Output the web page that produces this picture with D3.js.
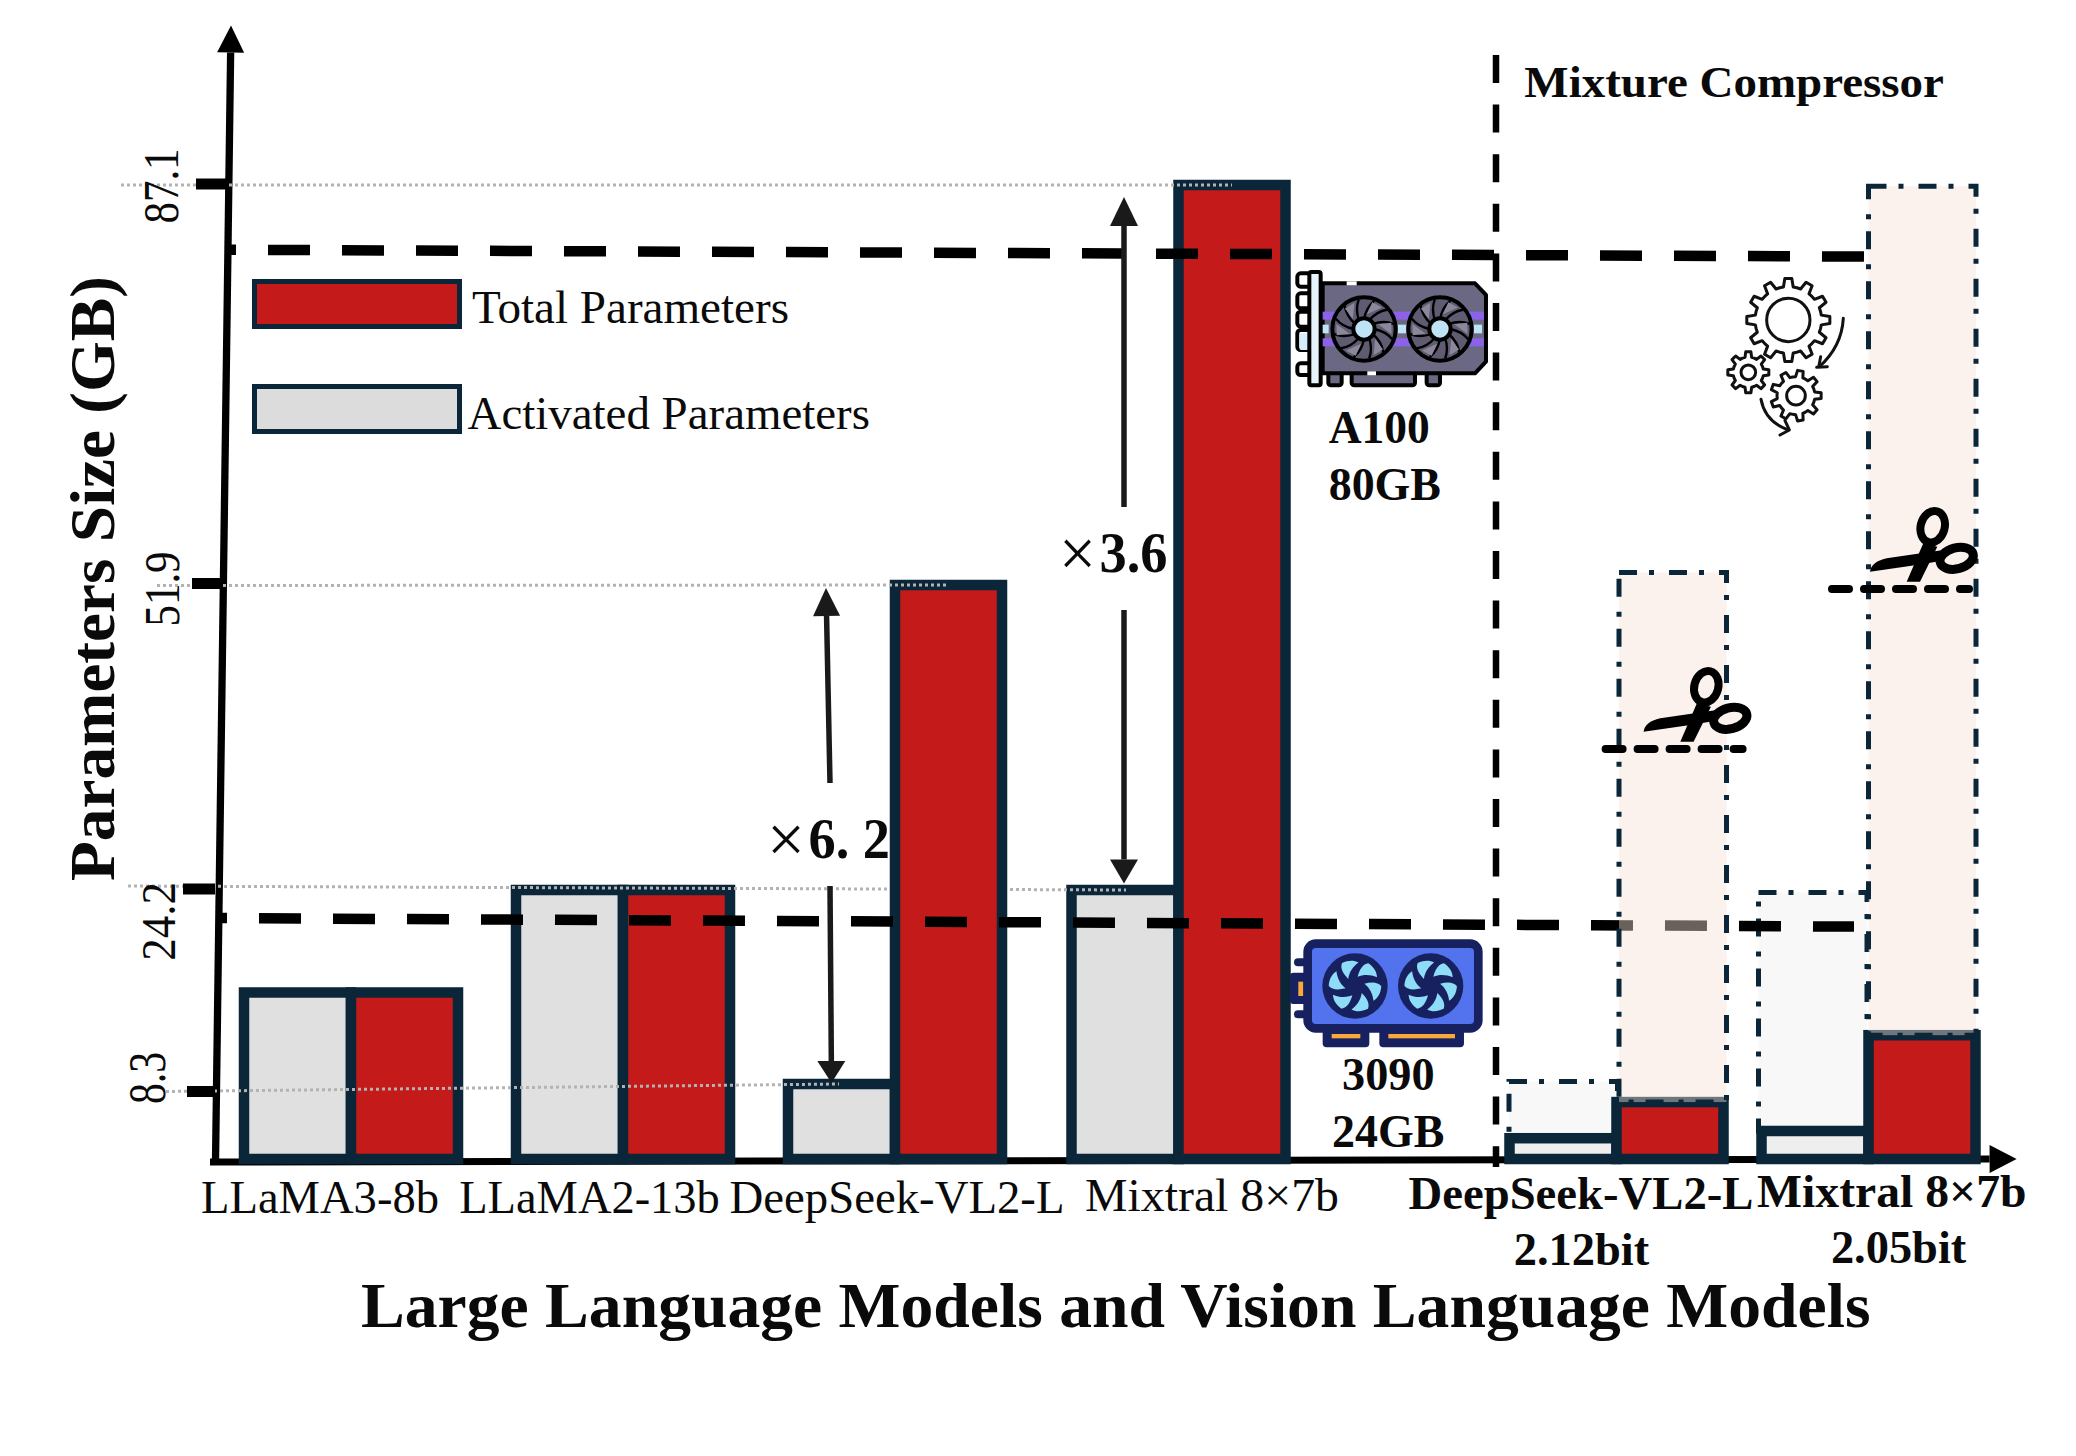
<!DOCTYPE html>
<html><head><meta charset="utf-8">
<script src="https://cdn.jsdelivr.net/npm/d3@7/dist/d3.min.js"></script>
<style>html,body{margin:0;padding:0;background:#fff}svg{display:block}text{font-family:"Liberation Serif","Times New Roman",serif;fill:#0a0a0a}</style>
</head><body><svg id="c" width="2076" height="1456"></svg>
<script>
// ---------- data ----------
const categories = ["LLaMA3-8b","LLaMA2-13b","DeepSeek-VL2-L","Mixtral 8×7b","DeepSeek-VL2-L 2.12bit","Mixtral 8×7b 2.05bit"];
const activated = [15.8,24.2,8.3,24.2,2.3,3.1];
const total = [15.8,24.2,51.9,87.1,6.3,12.3];
const fadedCategories = ["DeepSeek-VL2-L 2.12bit","Mixtral 8×7b 2.05bit"];
const fadedActivated = [8.5,24.0];
const fadedTotal = [53.0,87.0];
const yTicks = [8.3,24.2,51.9,87.1];
const capacityLabels = [["A100","80GB"],["3090","24GB"]];
const capacityStart = [81.4,21.9];
const capacityEnd = [80.8,21.2];
const ratioSign = "×";
const ratios = ["6. 2","3.6"];

// ---------- style / layout ----------
const NAVY="#0a2638",RED="#c41a1a",GREY="#e0e0e0",GREY2="#eeeeee",BLACK="#000";
const svg=d3.select("#c");
svg.append("rect").attr("width",2076).attr("height",1456).attr("fill","#fff");
const y=d3.scaleLinear().domain([0,8.3,24.2,51.9,87.1]).range([1159,1084,890,585,185]);
const yAxisScale=d3.scaleLinear().domain(yTicks).range([1091.5,889,583.5,184]);
const x=d3.scaleOrdinal().domain(categories).range([351,623,895,1178.5,1616.5,1868.5]);
const xLabel=d3.scaleOrdinal().domain(categories).range([320,589.5,897,1212,1581,1891.8]);
const BAR=107;

function txt(g,s,x0,x1,base,size,bold){
  return g.append("text").attr("x",x0).attr("y",base).attr("font-size",size)
    .attr("font-weight",bold?"bold":"normal").attr("textLength",x1-x0)
    .attr("lengthAdjust","spacingAndGlyphs").text(s);
}
function arrow(g,x0,y0,x1,y1,color,sw,hl,hw){
  const d=Math.hypot(x1-x0,y1-y0),ux=(x1-x0)/d,uy=(y1-y0)/d;
  const bx=x1-ux*hl,by=y1-uy*hl;
  g.append("line").attr("x1",x0).attr("y1",y0).attr("x2",bx).attr("y2",by).attr("stroke",color).attr("stroke-width",sw);
  g.append("polygon").attr("fill",color).attr("points",
    [[x1,y1],[bx-uy*hw/2,by+ux*hw/2],[bx+uy*hw/2,by-ux*hw/2]].map(p=>p.join(",")).join(" "));
}

// axis lines
arrow(svg,210,1162,2016.6,1159,BLACK,7,27,28);
arrow(svg,215.5,1162,231,25.5,BLACK,7.3,27,27);

// bars
const barData=[];
categories.forEach((c,i)=>{
  barData.push({c,i,kind:"a",v:activated[i]});
  barData.push({c,i,kind:"t",v:total[i]});
});
function drawBars(data){
  const g=svg.append("g");
  g.selectAll("rect").data(data).join("rect")
    .attr("x",d=>d.kind==="a"?x(d.c)-BAR:x(d.c))
    .attr("width",BAR)
    .attr("y",d=>y(d.v))
    .attr("height",d=>y(0)-y(d.v))
    .attr("fill",d=>d.kind==="t"?RED:(d.i>=4?GREY2:GREY))
    .attr("stroke",NAVY).attr("stroke-width",10.5);
}
const gridLeft=[166,128,157,121], gridRight=[839,1126,948,1232];
function drawGrid(vals){
  vals.forEach(v=>{
    const i=yTicks.indexOf(v);
    svg.append("line").attr("x1",gridLeft[i]).attr("x2",gridRight[i])
      .attr("y1",yAxisScale(v)+(v===87.1?1:v===51.9?2:v===24.2?-3:0)).attr("y2",y(v))
      .attr("stroke","#b3b3b3").attr("stroke-width",3).attr("stroke-dasharray","3 3");
  });
}
const tall=d=>d.i<4 && d.v>30;
const fadeDash="18 12 5 15", fadeOffset=[2.5,0];
fadedCategories.forEach((c,i)=>{
  const solid=activated[categories.indexOf(c)];
  svg.append("rect").attr("x",x(c)-110+fadeOffset[i]).attr("width",108.5)
    .attr("y",y(fadedActivated[i])).attr("height",y(solid)-y(fadedActivated[i]))
    .attr("fill","#f8f8f8").attr("stroke",NAVY).attr("stroke-width",5).attr("stroke-dasharray",fadeDash);
});
drawBars(barData.filter(d=>!tall(d)));
drawGrid([8.3,24.2]);
drawBars(barData.filter(tall));
drawGrid([51.9,87.1]);

// y axis ticks and labels, above the dotted lines
const tickX=[[187,215],[183,215],[192,222],[196,229]];
const tickLabelX=[164.5,175,179,178], tickLabelY=[1078,921.5,589,186];
const tickFont=[41.6,45,43,43], tickStretch=[1.25,1.08,1.2,1.2];
const yAxisG=svg.append("g").call(d3.axisLeft(yAxisScale).tickValues(yTicks).tickSize(0).tickFormat(d3.format(".1f")));
yAxisG.select(".domain").remove();
yAxisG.selectAll(".tick").each(function(v,i){
  const t=d3.select(this),yy=yAxisScale(v);
  t.attr("transform",`translate(0,${yy})`);
  t.select("line").attr("x1",tickX[i][0]).attr("x2",tickX[i][1]).attr("stroke",BLACK).attr("stroke-width",11);
  t.select("text").attr("x",0).attr("y",0).attr("dy",0).attr("text-anchor","middle").attr("fill","#0a0a0a")
    .attr("font-family","Liberation Serif").attr("font-size",tickFont[i])
    .attr("transform",`translate(${tickLabelX[i]},${tickLabelY[i]-yy}) rotate(-90) scale(1,${tickStretch[i]})`);
});

// capacity lines
const capX=[[231,1864],[217,1854]], capOffset=[37,32];
capacityStart.forEach((v,i)=>{
  svg.append("line").attr("x1",capX[i][0]).attr("x2",capX[i][1]).attr("y1",y(v)).attr("y2",y(capacityEnd[i]))
    .attr("stroke",BLACK).attr("stroke-width",10.5).attr("stroke-dasharray","42 32").attr("stroke-dashoffset",capOffset[i]);
});

// faded total bars over the lines
fadedCategories.forEach((c,i)=>{
  const solid=total[categories.indexOf(c)];
  svg.append("rect").attr("x",x(c)+fadeOffset[i]).attr("width",107.5)
    .attr("y",y(fadedTotal[i])).attr("height",y(solid)-y(fadedTotal[i]))
    .attr("fill","rgb(246,225,215)").attr("fill-opacity",0.43)
    .attr("stroke",NAVY).attr("stroke-width",5).attr("stroke-dasharray",fadeDash);
});

// separator
svg.append("line").attr("x1",1496).attr("x2",1496).attr("y1",55).attr("y2",1167)
  .attr("stroke",BLACK).attr("stroke-width",6.5).attr("stroke-dasharray","28 21.6");

// ratio arrows
arrow(svg,830,783,826,588,"#1a1a1a",5.5,28,27);
arrow(svg,830,886,831.5,1083,"#1a1a1a",5.5,22,28);
arrow(svg,1124,507,1124,197,"#1a1a1a",5.5,29,28);
arrow(svg,1124,610,1124,883.5,"#1a1a1a",5.5,24,28);
txt(svg,ratioSign,767,805,862,68,false);
txt(svg,ratios[0],808.5,890,858,58,true);
txt(svg,ratioSign,1059,1096,576,68,false);
txt(svg,ratios[1],1099.5,1167.5,572,58,true);

// legend
svg.append("rect").attr("x",254.5).attr("y",281.5).attr("width",205).attr("height",45).attr("fill",RED).attr("stroke",NAVY).attr("stroke-width",5);
svg.append("rect").attr("x",254.5).attr("y",386.5).attr("width",205).attr("height",45).attr("fill","#dcdcdc").attr("stroke",NAVY).attr("stroke-width",5);
txt(svg,"Total Parameters",472,789,322.6,46.5);
txt(svg,"Activated Parameters",467.5,870,429.4,46.5);

// category axis
const labelText=["LLaMA3-8b","LLaMA2-13b","DeepSeek-VL2-L","Mixtral 8×7b","DeepSeek-VL2-L","Mixtral 8×7b"];
const labelW=[238,260.5,335,254,345,269.5], labelBase=[1213,1213,1213,1211,1209,1207];
const xAxisG=svg.append("g").call(d3.axisBottom(xLabel).tickSize(0).tickFormat((d,i)=>labelText[i]));
xAxisG.select(".domain").remove();
xAxisG.selectAll(".tick").each(function(c,i){
  const t=d3.select(this);
  t.attr("transform",`translate(${xLabel(c)},0)`);
  t.select("text").attr("y",labelBase[i]).attr("dy",0).attr("font-size",46).attr("fill","#0a0a0a")
    .attr("font-family","Liberation Serif").attr("font-weight",i>=4?"bold":"normal")
    .attr("text-anchor","middle").attr("textLength",labelW[i]).attr("lengthAdjust","spacingAndGlyphs");
});
txt(svg,"2.12bit",1513.7,1649.2,1265,46,true);
txt(svg,"2.05bit",1830.9,1966.3,1263,46,true);

// titles
txt(svg,"Large Language Models and Vision Language Models",361,1870.5,1327,64,true);
svg.append("text").attr("transform","translate(113.5,881) rotate(-90)").attr("font-size",63.7).attr("font-weight","bold")
  .attr("textLength",605).attr("lengthAdjust","spacingAndGlyphs").text("Parameters Size (GB)");
txt(svg,"Mixture Compressor",1524.3,1943.9,96.6,45,true);
txt(svg,capacityLabels[0][0],1328.7,1429.8,443,46,true);
txt(svg,capacityLabels[0][1],1328.7,1441,500,46,true);
txt(svg,capacityLabels[1][0],1342,1434.5,1090,46,true);
txt(svg,capacityLabels[1][1],1332,1444.4,1147,46,true);

// ---------- icons (decoration, drawn in 3x crop coordinates) ----------
function a100(){
  const g=svg.append("g").attr("transform","translate(1280,250) scale(0.3333)");
  const S={stroke:"#000","stroke-width":12,"stroke-linejoin":"round","stroke-linecap":"round"};
  const st=(s,o)=>{Object.entries(Object.assign({},S,o||{})).forEach(([k,v])=>s.attr(k,v));return s;};
  [[145,40],[215,190],[440,40]].forEach(([a,w])=>st(g.append("rect").attr("x",a).attr("y",360).attr("width",w).attr("height",46).attr("rx",8).attr("fill","#6b6884")));
  [[70,40],[130,45],[185,45],[240,60],[340,35]].forEach(([a,h])=>st(g.append("rect").attr("x",52).attr("y",a).attr("width",40).attr("height",h).attr("rx",10).attr("fill","#fff")));
  st(g.append("rect").attr("x",58).attr("y",250).attr("width",30).attr("height",50).attr("rx",6).attr("fill","#d5ecfa"),{stroke:"none"});
  st(g.append("polygon").attr("points","128,100 585,100 618,135 618,335 585,370 128,370").attr("fill","#6b6884"));
  g.append("rect").attr("x",126).attr("y",185).attr("width",486).attr("height",24).attr("fill","#8c63e8");
  g.append("rect").attr("x",126).attr("y",265).attr("width",486).attr("height",24).attr("fill","#8c63e8");
  [134,366,594].forEach(c=>g.append("rect").attr("x",c-12).attr("y",224).attr("width",24).attr("height",26).attr("fill","#bfe3f5"));
  g.append("rect").attr("x",200).attr("y",94).attr("width",30).attr("height",12).attr("fill","#fff");
  g.append("rect").attr("x",262).attr("y",364).attr("width",26).attr("height",12).attr("fill","#fff");
  st(g.append("rect").attr("x",88).attr("y",66).attr("width",34).attr("height",340).attr("rx",6).attr("fill","#e6f3fb"));
  [252,480].forEach(cx=>{
    const f=g.append("g").attr("transform",`translate(${cx},237)`);
    st(f.append("circle").attr("r",95).attr("fill","#5f5c72"));
    d3.range(12).forEach(k=>{
      const a=k*Math.PI/6,b=a+0.35;
      f.append("path").attr("d",`M${30*Math.cos(a)},${30*Math.sin(a)} Q${65*Math.cos(a+.1)},${65*Math.sin(a+.1)} ${90*Math.cos(b)},${90*Math.sin(b)}`)
        .attr("fill","none").attr("stroke","#000").attr("stroke-width",7);
      if(k%2) f.append("path").attr("d",`M${45*Math.cos(a+.2)},${45*Math.sin(a+.2)} L${84*Math.cos(a+.3)},${84*Math.sin(a+.3)} L${84*Math.cos(a+.7)},${84*Math.sin(a+.7)}Z`).attr("fill","#8b889c");
    });
    st(f.append("circle").attr("r",32).attr("fill","#bfe3f5"));
  });
}
function g3090(){
  const g=svg.append("g").attr("transform","translate(1280,920) scale(0.3333)");
  const D="#18215f",O="#f7a93c";
  [[128,140],[298,254]].forEach(([a,w])=>g.append("rect").attr("x",a).attr("y",320).attr("width",w).attr("height",62).attr("rx",12).attr("fill",D));
  g.append("rect").attr("x",155).attr("y",342).attr("width",86).attr("height",13).attr("fill",O);
  g.append("rect").attr("x",325).attr("y",342).attr("width",200).attr("height",13).attr("fill",O);
  g.append("rect").attr("x",30).attr("y",158).attr("width",60).attr("height",94).attr("rx",10).attr("fill",D);
  g.append("rect").attr("x",55).attr("y",185).attr("width",15).attr("height",43).attr("fill",O);
  [127,283].forEach(c=>g.append("rect").attr("x",42).attr("y",c-12).attr("width",50).attr("height",24).attr("rx",12).attr("fill",D));
  g.append("rect").attr("x",83).attr("y",71).attr("width",512).attr("height",254).attr("rx",24).attr("fill","#5272ee").attr("stroke",D).attr("stroke-width",26);
  [225,452].forEach(cx=>{
    const f=g.append("g").attr("transform",`translate(${cx},198)`);
    f.append("circle").attr("r",98).attr("fill",D);
    d3.range(6).forEach(k=>f.append("path").attr("transform",`rotate(${k*60})`)
      .attr("d","M8,-28 C14,-50 24,-66 40,-68 C58,-56 66,-40 66,-26 C48,-34 28,-36 8,-28Z").attr("fill","#8ddcf8"));
  });
}
function gears(){
  const g=svg.append("g").attr("transform","translate(1700,260) scale(0.3333)");
  const gear=(cx,cy,R,Ri,n)=>{
    let d="";
    const w=Math.PI*2/n;
    for(let k=0;k<n;k++){
      const a=k*w;
      const P=[[Ri,a-w*.5],[Ri,a-w*.28],[R,a-w*.16],[R,a+w*.16],[Ri,a+w*.28]];
      P.forEach(([r,t],j)=>{d+=(k===0&&j===0?"M":"L")+(cx+r*Math.cos(t)).toFixed(1)+","+(cy+r*Math.sin(t)).toFixed(1);});
    }
    g.append("path").attr("d",d+"Z").attr("fill","#fff").attr("stroke","#111").attr("stroke-width",9).attr("stroke-linejoin","round");
  };
  gear(265,180,125,100,12);
  g.append("circle").attr("cx",265).attr("cy",180).attr("r",65).attr("fill","#fff").attr("stroke","#111").attr("stroke-width",9);
  gear(145,337,62,46,8);
  g.append("circle").attr("cx",145).attr("cy",337).attr("r",22).attr("fill","#fff").attr("stroke","#111").attr("stroke-width",9);
  gear(288,407,76,57,9);
  g.append("circle").attr("cx",288).attr("cy",407).attr("r",28).attr("fill","#fff").attr("stroke","#111").attr("stroke-width",9);
  const p=d=>g.append("path").attr("d",d).attr("fill","none").attr("stroke","#111").attr("stroke-width",9).attr("stroke-linecap","round").attr("stroke-linejoin","round");
  p("M430,175 Q425,260 358,320"); p("M350,322 L382,320 M356,322 L362,290");
  p("M183,418 Q195,485 265,510"); p("M240,525 L268,510 L255,482");
}
function scissors(lx,ly){
  const g=svg.append("g").attr("transform",`translate(${lx},${ly})`);
  g.append("line").attr("x1",4).attr("x2",141).attr("y1",0).attr("y2",0).attr("stroke","#000").attr("stroke-width",8)
    .attr("stroke-linecap","round").attr("stroke-dasharray","17 15");
  g.append("polygon").attr("points","95.3,-45.7 78.7,-7.3 92,-7.3 109.3,-42.3").attr("fill","#000");
  g.append("path").attr("d","M42,-17.3 Q43,-27 58.7,-30.7 L115.3,-39 L118.7,-29 L88.7,-24 Z").attr("fill","#000");
  g.append("ellipse").attr("transform","translate(104.7,-62.3) rotate(15)").attr("rx",12).attr("ry",16).attr("fill","#fbf2ee").attr("stroke","#000").attr("stroke-width",8);
  g.append("ellipse").attr("transform","translate(128.7,-30.7) rotate(-15)").attr("rx",17).attr("ry",10.5).attr("fill","#fbf2ee").attr("stroke","#000").attr("stroke-width",9);
}
a100(); g3090(); gears();
scissors(1828,589); scissors(1601.6,749);
</script></body></html>
